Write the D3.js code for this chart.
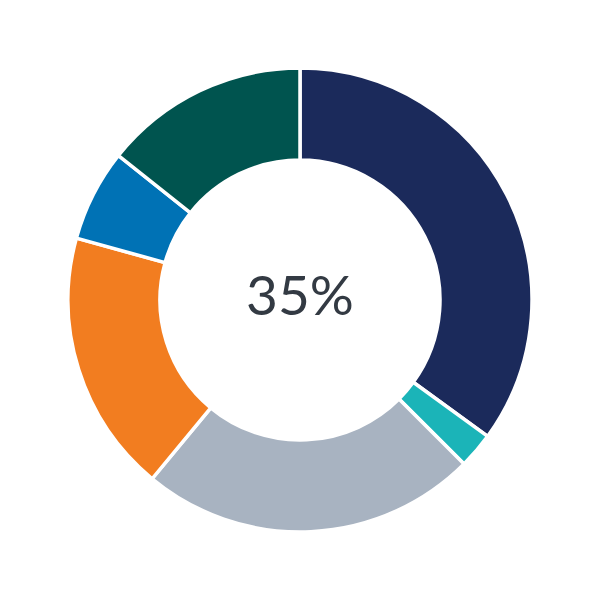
<!DOCTYPE html>
<html>
<head>
<meta charset="utf-8">
<script src="https://cdn.jsdelivr.net/npm/d3@7"></script>
<style>
  html, body { margin: 0; padding: 0; background: #fff; }
</style>
</head>
<body>
<div id="chart"></div>
<script>
// slice values, clockwise from 12 o'clock
const categories = ["A", "B", "C", "D", "E", "F"];
const values = [35, 2.5, 23.5, 18.3, 6.4, 14.3];
const colors = ["#1b2a5b", "#1bb4b8", "#a8b3c1", "#f27d20", "#0072b5", "#00544f"];
const centerLabel = "35%";

const width = 600,
    height = 600,
    outerR = 232,
    innerR = 140;

const svg = d3.select("#chart")
    .append("svg")
    .attr("width", width)
    .attr("height", height);

const g = svg.append("g")
    .attr("transform", `translate(${width / 2},${height / 2})`);

const pie = d3.pie()
    .sort(null)
    .value(d => d.value);

const arc = d3.arc()
    .innerRadius(innerR)
    .outerRadius(outerR);

const color = d3.scaleOrdinal()
    .domain(categories)
    .range(colors);

const data = categories.map((c, i) => ({ cat: c, value: values[i] }));

g.selectAll("path")
    .data(pie(data))
    .enter()
    .append("path")
    .attr("d", arc)
    .attr("fill", d => color(d.data.cat))
    .attr("stroke", "#fff")
    .attr("stroke-width", 3.5);

g.append("text")
    .attr("x", 0)
    .attr("y", 15)
    .attr("text-anchor", "middle")
    .attr("font-family", "Lato, sans-serif")
    .attr("font-weight", 400)
    .attr("font-size", "55px")
    .attr("fill", "#333a43")
    .text(centerLabel);
</script>
</body>
</html>
